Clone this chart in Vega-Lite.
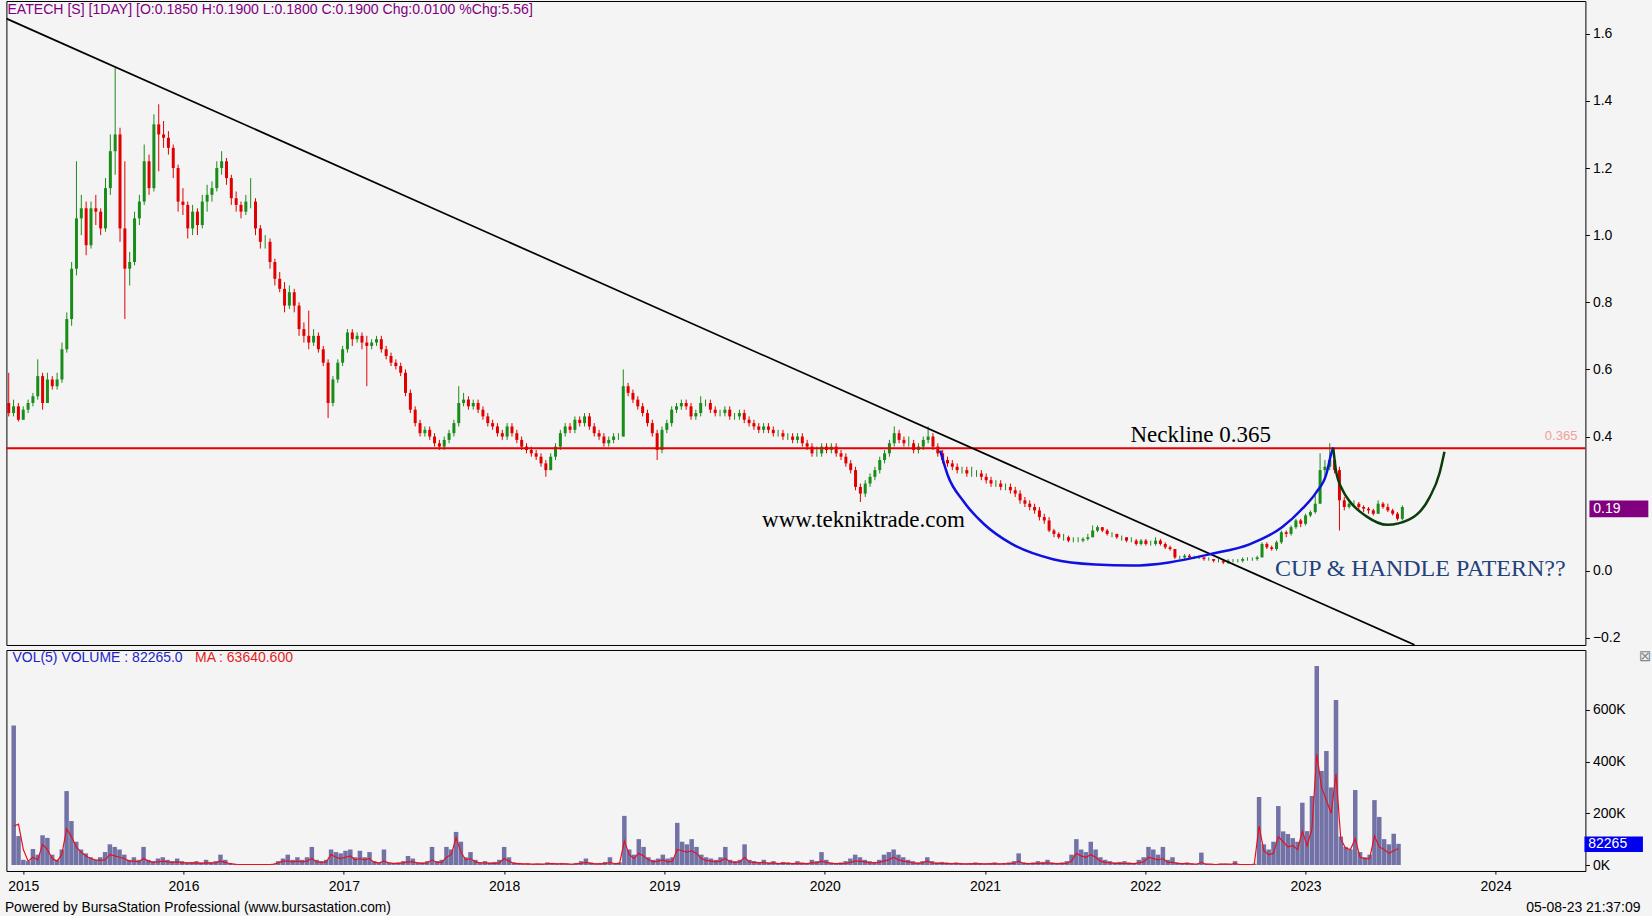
{
"$schema": "https://vega.github.io/schema/vega-lite/v6.json",
"background": "#f4f4f4",
"padding": {"left": 3.4, "top": 0, "right": 0, "bottom": 0},
"config": {
  "view": {"stroke": "#000000", "strokeWidth": 1, "fill": "#f4f4f4"},
  "axis": {"labelFont": "Liberation Sans", "labelFontSize": 14, "labelColor": "#000000", "tickColor": "#000000", "domain": false, "grid": false, "labelFlush": false, "labelOverlap": false}
},
"datasets": {
"candles": [
{"t":2014.94,"o":0.50,"h":0.59,"l":0.46,"c":0.47,"v":540,"m":150},
{"t":2014.97,"o":0.47,"h":0.51,"l":0.46,"c":0.49,"v":112,"m":158},
{"t":2015.00,"o":0.49,"h":0.50,"l":0.445,"c":0.45,"v":20,"m":60},
{"t":2015.03,"o":0.45,"h":0.49,"l":0.45,"c":0.48,"v":15,"m":15},
{"t":2015.06,"o":0.48,"h":0.51,"l":0.47,"c":0.50,"v":62,"m":30},
{"t":2015.09,"o":0.50,"h":0.53,"l":0.49,"c":0.52,"v":40,"m":20},
{"t":2015.12,"o":0.52,"h":0.63,"l":0.51,"c":0.58,"v":115,"m":80},
{"t":2015.15,"o":0.58,"h":0.59,"l":0.48,"c":0.50,"v":105,"m":60},
{"t":2015.18,"o":0.50,"h":0.59,"l":0.50,"c":0.57,"v":40,"m":25},
{"t":2015.21,"o":0.57,"h":0.58,"l":0.54,"c":0.55,"v":20,"m":15},
{"t":2015.24,"o":0.55,"h":0.59,"l":0.54,"c":0.57,"v":60,"m":40},
{"t":2015.27,"o":0.57,"h":0.68,"l":0.56,"c":0.66,"v":286,"m":140},
{"t":2015.30,"o":0.66,"h":0.77,"l":0.65,"c":0.75,"v":170,"m":110},
{"t":2015.33,"o":0.75,"h":0.92,"l":0.73,"c":0.90,"v":90,"m":70},
{"t":2015.36,"o":0.90,"h":1.22,"l":0.88,"c":1.05,"v":60,"m":50},
{"t":2015.39,"o":1.05,"h":1.12,"l":1.00,"c":1.08,"v":45,"m":35},
{"t":2015.42,"o":1.08,"h":1.10,"l":0.94,"c":0.97,"v":30,"m":25},
{"t":2015.45,"o":0.97,"h":1.10,"l":0.96,"c":1.08,"v":20,"m":20},
{"t":2015.48,"o":1.08,"h":1.12,"l":1.03,"c":1.07,"v":30,"m":18},
{"t":2015.51,"o":1.07,"h":1.08,"l":1.00,"c":1.02,"v":50,"m":20},
{"t":2015.54,"o":1.02,"h":1.17,"l":1.01,"c":1.14,"v":80,"m":40},
{"t":2015.57,"o":1.14,"h":1.30,"l":1.12,"c":1.25,"v":70,"m":35},
{"t":2015.60,"o":1.25,"h":1.50,"l":1.18,"c":1.30,"v":60,"m":30},
{"t":2015.63,"o":1.30,"h":1.32,"l":0.98,"c":1.02,"v":40,"m":25},
{"t":2015.66,"o":1.02,"h":1.22,"l":0.75,"c":0.90,"v":20,"m":15},
{"t":2015.69,"o":0.90,"h":0.95,"l":0.85,"c":0.92,"v":30,"m":15},
{"t":2015.72,"o":0.92,"h":1.07,"l":0.91,"c":1.05,"v":20,"m":12},
{"t":2015.75,"o":1.05,"h":1.12,"l":1.03,"c":1.10,"v":70,"m":25},
{"t":2015.78,"o":1.10,"h":1.27,"l":1.09,"c":1.22,"v":20,"m":15},
{"t":2015.81,"o":1.22,"h":1.24,"l":1.12,"c":1.14,"v":15,"m":10},
{"t":2015.84,"o":1.14,"h":1.36,"l":1.13,"c":1.33,"v":25,"m":12},
{"t":2015.87,"o":1.33,"h":1.39,"l":1.19,"c":1.30,"v":30,"m":15},
{"t":2015.90,"o":1.30,"h":1.34,"l":1.26,"c":1.29,"v":20,"m":12},
{"t":2015.93,"o":1.29,"h":1.31,"l":1.24,"c":1.26,"v":15,"m":10},
{"t":2015.96,"o":1.26,"h":1.27,"l":1.17,"c":1.20,"v":25,"m":12},
{"t":2015.99,"o":1.20,"h":1.21,"l":1.07,"c":1.10,"v":15,"m":8},
{"t":2016.02,"o":1.10,"h":1.14,"l":1.06,"c":1.09,"v":10,"m":8},
{"t":2016.05,"o":1.09,"h":1.10,"l":0.99,"c":1.02,"v":12,"m":7},
{"t":2016.08,"o":1.02,"h":1.09,"l":1.00,"c":1.07,"v":15,"m":8},
{"t":2016.11,"o":1.07,"h":1.08,"l":1.00,"c":1.03,"v":10,"m":6},
{"t":2016.14,"o":1.03,"h":1.12,"l":1.02,"c":1.10,"v":20,"m":8},
{"t":2016.17,"o":1.10,"h":1.15,"l":1.07,"c":1.12,"v":12,"m":7},
{"t":2016.20,"o":1.12,"h":1.16,"l":1.10,"c":1.14,"v":15,"m":8},
{"t":2016.23,"o":1.14,"h":1.22,"l":1.13,"c":1.20,"v":40,"m":15},
{"t":2016.26,"o":1.20,"h":1.25,"l":1.18,"c":1.22,"v":20,"m":10},
{"t":2016.29,"o":1.22,"h":1.23,"l":1.15,"c":1.17,"v":8,"m":5},
{"t":2016.32,"o":1.17,"h":1.18,"l":1.09,"c":1.11,"v":5,"m":3},
{"t":2016.35,"o":1.11,"h":1.13,"l":1.07,"c":1.09,"v":3,"m":2},
{"t":2016.38,"o":1.09,"h":1.10,"l":1.05,"c":1.07,"v":3,"m":2},
{"t":2016.41,"o":1.07,"h":1.12,"l":1.06,"c":1.10,"v":4,"m":2},
{"t":2016.44,"o":1.10,"h":1.17,"l":1.08,"c":1.10,"v":3,"m":2},
{"t":2016.47,"o":1.10,"h":1.11,"l":1.00,"c":1.02,"v":3,"m":2},
{"t":2016.50,"o":1.02,"h":1.03,"l":0.96,"c":0.98,"v":4,"m":2},
{"t":2016.53,"o":0.98,"h":1.00,"l":0.96,"c":0.98,"v":3,"m":2},
{"t":2016.56,"o":0.98,"h":0.99,"l":0.90,"c":0.92,"v":5,"m":3},
{"t":2016.59,"o":0.92,"h":0.93,"l":0.85,"c":0.87,"v":15,"m":8},
{"t":2016.62,"o":0.87,"h":0.89,"l":0.83,"c":0.84,"v":25,"m":15},
{"t":2016.65,"o":0.84,"h":0.86,"l":0.77,"c":0.79,"v":40,"m":15},
{"t":2016.68,"o":0.79,"h":0.85,"l":0.78,"c":0.83,"v":20,"m":12},
{"t":2016.71,"o":0.83,"h":0.84,"l":0.77,"c":0.79,"v":30,"m":15},
{"t":2016.74,"o":0.79,"h":0.80,"l":0.70,"c":0.72,"v":20,"m":12},
{"t":2016.77,"o":0.72,"h":0.74,"l":0.68,"c":0.70,"v":30,"m":15},
{"t":2016.80,"o":0.70,"h":0.775,"l":0.66,"c":0.68,"v":70,"m":25},
{"t":2016.83,"o":0.68,"h":0.72,"l":0.67,"c":0.70,"v":20,"m":12},
{"t":2016.86,"o":0.70,"h":0.71,"l":0.65,"c":0.66,"v":15,"m":10},
{"t":2016.89,"o":0.66,"h":0.67,"l":0.61,"c":0.62,"v":20,"m":12},
{"t":2016.92,"o":0.62,"h":0.63,"l":0.455,"c":0.50,"v":60,"m":40},
{"t":2016.95,"o":0.50,"h":0.58,"l":0.49,"c":0.57,"v":50,"m":30},
{"t":2016.98,"o":0.57,"h":0.63,"l":0.56,"c":0.62,"v":45,"m":25},
{"t":2017.01,"o":0.62,"h":0.67,"l":0.61,"c":0.66,"v":55,"m":30},
{"t":2017.04,"o":0.66,"h":0.72,"l":0.65,"c":0.71,"v":60,"m":35},
{"t":2017.07,"o":0.71,"h":0.72,"l":0.67,"c":0.69,"v":30,"m":20},
{"t":2017.10,"o":0.69,"h":0.71,"l":0.68,"c":0.70,"v":55,"m":25},
{"t":2017.13,"o":0.70,"h":0.71,"l":0.66,"c":0.68,"v":30,"m":20},
{"t":2017.16,"o":0.68,"h":0.70,"l":0.55,"c":0.67,"v":50,"m":25},
{"t":2017.19,"o":0.67,"h":0.69,"l":0.66,"c":0.68,"v":15,"m":10},
{"t":2017.22,"o":0.68,"h":0.70,"l":0.67,"c":0.69,"v":10,"m":8},
{"t":2017.25,"o":0.69,"h":0.70,"l":0.65,"c":0.66,"v":60,"m":15},
{"t":2017.28,"o":0.66,"h":0.67,"l":0.63,"c":0.64,"v":10,"m":8},
{"t":2017.31,"o":0.64,"h":0.65,"l":0.61,"c":0.62,"v":8,"m":6},
{"t":2017.34,"o":0.62,"h":0.63,"l":0.60,"c":0.61,"v":10,"m":6},
{"t":2017.37,"o":0.61,"h":0.62,"l":0.58,"c":0.59,"v":15,"m":8},
{"t":2017.40,"o":0.59,"h":0.60,"l":0.52,"c":0.53,"v":35,"m":12},
{"t":2017.43,"o":0.53,"h":0.54,"l":0.47,"c":0.48,"v":25,"m":12},
{"t":2017.46,"o":0.48,"h":0.49,"l":0.43,"c":0.44,"v":10,"m":8},
{"t":2017.49,"o":0.44,"h":0.45,"l":0.40,"c":0.41,"v":10,"m":6},
{"t":2017.52,"o":0.41,"h":0.43,"l":0.40,"c":0.42,"v":15,"m":8},
{"t":2017.55,"o":0.42,"h":0.43,"l":0.39,"c":0.40,"v":70,"m":20},
{"t":2017.58,"o":0.40,"h":0.41,"l":0.37,"c":0.38,"v":15,"m":10},
{"t":2017.61,"o":0.38,"h":0.39,"l":0.36,"c":0.37,"v":20,"m":10},
{"t":2017.64,"o":0.37,"h":0.40,"l":0.36,"c":0.39,"v":70,"m":30},
{"t":2017.67,"o":0.39,"h":0.42,"l":0.38,"c":0.41,"v":60,"m":40},
{"t":2017.70,"o":0.41,"h":0.45,"l":0.40,"c":0.44,"v":128,"m":105},
{"t":2017.73,"o":0.44,"h":0.55,"l":0.43,"c":0.50,"v":90,"m":50},
{"t":2017.76,"o":0.50,"h":0.53,"l":0.49,"c":0.51,"v":30,"m":20},
{"t":2017.79,"o":0.51,"h":0.52,"l":0.48,"c":0.49,"v":50,"m":25},
{"t":2017.82,"o":0.49,"h":0.51,"l":0.48,"c":0.50,"v":20,"m":12},
{"t":2017.85,"o":0.50,"h":0.51,"l":0.47,"c":0.48,"v":10,"m":8},
{"t":2017.88,"o":0.48,"h":0.49,"l":0.45,"c":0.46,"v":15,"m":8},
{"t":2017.91,"o":0.46,"h":0.47,"l":0.43,"c":0.44,"v":10,"m":6},
{"t":2017.94,"o":0.44,"h":0.45,"l":0.42,"c":0.43,"v":12,"m":6},
{"t":2017.97,"o":0.43,"h":0.44,"l":0.40,"c":0.41,"v":20,"m":8},
{"t":2018.00,"o":0.41,"h":0.42,"l":0.39,"c":0.40,"v":70,"m":25},
{"t":2018.03,"o":0.40,"h":0.44,"l":0.39,"c":0.43,"v":30,"m":15},
{"t":2018.06,"o":0.43,"h":0.44,"l":0.40,"c":0.41,"v":10,"m":6},
{"t":2018.09,"o":0.41,"h":0.42,"l":0.38,"c":0.39,"v":8,"m":5},
{"t":2018.12,"o":0.39,"h":0.40,"l":0.36,"c":0.37,"v":5,"m":4},
{"t":2018.15,"o":0.37,"h":0.38,"l":0.35,"c":0.36,"v":6,"m":4},
{"t":2018.18,"o":0.36,"h":0.37,"l":0.34,"c":0.35,"v":5,"m":3},
{"t":2018.21,"o":0.35,"h":0.36,"l":0.33,"c":0.34,"v":6,"m":3},
{"t":2018.24,"o":0.34,"h":0.35,"l":0.31,"c":0.32,"v":5,"m":3},
{"t":2018.27,"o":0.32,"h":0.33,"l":0.28,"c":0.30,"v":10,"m":5},
{"t":2018.30,"o":0.30,"h":0.35,"l":0.30,"c":0.34,"v":8,"m":5},
{"t":2018.33,"o":0.34,"h":0.38,"l":0.33,"c":0.37,"v":6,"m":4},
{"t":2018.36,"o":0.37,"h":0.42,"l":0.36,"c":0.41,"v":8,"m":4},
{"t":2018.39,"o":0.41,"h":0.44,"l":0.40,"c":0.43,"v":6,"m":4},
{"t":2018.42,"o":0.43,"h":0.44,"l":0.41,"c":0.42,"v":5,"m":3},
{"t":2018.45,"o":0.42,"h":0.46,"l":0.41,"c":0.45,"v":8,"m":4},
{"t":2018.48,"o":0.45,"h":0.46,"l":0.43,"c":0.44,"v":15,"m":6},
{"t":2018.51,"o":0.44,"h":0.47,"l":0.43,"c":0.46,"v":25,"m":10},
{"t":2018.54,"o":0.46,"h":0.47,"l":0.42,"c":0.43,"v":10,"m":6},
{"t":2018.57,"o":0.43,"h":0.44,"l":0.40,"c":0.41,"v":6,"m":4},
{"t":2018.60,"o":0.41,"h":0.42,"l":0.39,"c":0.40,"v":8,"m":4},
{"t":2018.63,"o":0.40,"h":0.41,"l":0.37,"c":0.38,"v":12,"m":5},
{"t":2018.66,"o":0.38,"h":0.40,"l":0.37,"c":0.39,"v":30,"m":10},
{"t":2018.69,"o":0.39,"h":0.41,"l":0.38,"c":0.40,"v":8,"m":5},
{"t":2018.72,"o":0.40,"h":0.41,"l":0.39,"c":0.40,"v":10,"m":5},
{"t":2018.75,"o":0.40,"h":0.60,"l":0.40,"c":0.55,"v":190,"m":93},
{"t":2018.78,"o":0.55,"h":0.56,"l":0.52,"c":0.53,"v":60,"m":40},
{"t":2018.81,"o":0.53,"h":0.54,"l":0.50,"c":0.51,"v":40,"m":25},
{"t":2018.84,"o":0.51,"h":0.52,"l":0.48,"c":0.49,"v":100,"m":45},
{"t":2018.87,"o":0.49,"h":0.50,"l":0.46,"c":0.47,"v":70,"m":35},
{"t":2018.90,"o":0.47,"h":0.48,"l":0.43,"c":0.44,"v":30,"m":20},
{"t":2018.93,"o":0.44,"h":0.45,"l":0.40,"c":0.41,"v":20,"m":12},
{"t":2018.96,"o":0.41,"h":0.42,"l":0.33,"c":0.36,"v":25,"m":15},
{"t":2018.99,"o":0.36,"h":0.43,"l":0.35,"c":0.42,"v":40,"m":20},
{"t":2019.02,"o":0.42,"h":0.45,"l":0.41,"c":0.44,"v":25,"m":12},
{"t":2019.05,"o":0.44,"h":0.49,"l":0.43,"c":0.48,"v":30,"m":15},
{"t":2019.08,"o":0.48,"h":0.50,"l":0.47,"c":0.49,"v":163,"m":60},
{"t":2019.11,"o":0.49,"h":0.51,"l":0.48,"c":0.50,"v":90,"m":55},
{"t":2019.14,"o":0.50,"h":0.51,"l":0.48,"c":0.49,"v":80,"m":50},
{"t":2019.17,"o":0.49,"h":0.50,"l":0.45,"c":0.46,"v":100,"m":55},
{"t":2019.20,"o":0.46,"h":0.48,"l":0.45,"c":0.47,"v":70,"m":45},
{"t":2019.23,"o":0.47,"h":0.52,"l":0.46,"c":0.50,"v":40,"m":25},
{"t":2019.26,"o":0.50,"h":0.51,"l":0.49,"c":0.50,"v":30,"m":18},
{"t":2019.29,"o":0.50,"h":0.51,"l":0.47,"c":0.48,"v":25,"m":15},
{"t":2019.32,"o":0.48,"h":0.49,"l":0.46,"c":0.47,"v":20,"m":12},
{"t":2019.35,"o":0.47,"h":0.48,"l":0.46,"c":0.47,"v":30,"m":15},
{"t":2019.38,"o":0.47,"h":0.49,"l":0.46,"c":0.48,"v":70,"m":25},
{"t":2019.41,"o":0.48,"h":0.49,"l":0.45,"c":0.46,"v":20,"m":12},
{"t":2019.44,"o":0.46,"h":0.47,"l":0.45,"c":0.46,"v":15,"m":10},
{"t":2019.47,"o":0.46,"h":0.48,"l":0.45,"c":0.47,"v":20,"m":12},
{"t":2019.50,"o":0.47,"h":0.48,"l":0.44,"c":0.45,"v":80,"m":30},
{"t":2019.53,"o":0.45,"h":0.46,"l":0.43,"c":0.44,"v":20,"m":12},
{"t":2019.56,"o":0.44,"h":0.45,"l":0.42,"c":0.43,"v":15,"m":10},
{"t":2019.59,"o":0.43,"h":0.44,"l":0.41,"c":0.42,"v":12,"m":8},
{"t":2019.62,"o":0.42,"h":0.44,"l":0.41,"c":0.43,"v":20,"m":10},
{"t":2019.65,"o":0.43,"h":0.44,"l":0.41,"c":0.42,"v":10,"m":6},
{"t":2019.68,"o":0.42,"h":0.43,"l":0.40,"c":0.41,"v":15,"m":8},
{"t":2019.71,"o":0.41,"h":0.42,"l":0.40,"c":0.41,"v":8,"m":5},
{"t":2019.74,"o":0.41,"h":0.42,"l":0.39,"c":0.40,"v":12,"m":6},
{"t":2019.77,"o":0.40,"h":0.41,"l":0.39,"c":0.40,"v":10,"m":6},
{"t":2019.80,"o":0.40,"h":0.41,"l":0.38,"c":0.39,"v":8,"m":5},
{"t":2019.83,"o":0.39,"h":0.41,"l":0.38,"c":0.40,"v":15,"m":6},
{"t":2019.86,"o":0.40,"h":0.41,"l":0.37,"c":0.38,"v":10,"m":5},
{"t":2019.89,"o":0.38,"h":0.39,"l":0.36,"c":0.37,"v":8,"m":5},
{"t":2019.92,"o":0.37,"h":0.38,"l":0.34,"c":0.35,"v":20,"m":8},
{"t":2019.95,"o":0.35,"h":0.37,"l":0.34,"c":0.35,"v":15,"m":8},
{"t":2019.98,"o":0.35,"h":0.38,"l":0.34,"c":0.37,"v":50,"m":15},
{"t":2020.01,"o":0.37,"h":0.38,"l":0.35,"c":0.36,"v":20,"m":10},
{"t":2020.04,"o":0.36,"h":0.38,"l":0.35,"c":0.37,"v":10,"m":6},
{"t":2020.07,"o":0.37,"h":0.38,"l":0.34,"c":0.35,"v":8,"m":5},
{"t":2020.10,"o":0.35,"h":0.36,"l":0.33,"c":0.34,"v":10,"m":5},
{"t":2020.13,"o":0.34,"h":0.35,"l":0.31,"c":0.32,"v":15,"m":6},
{"t":2020.16,"o":0.32,"h":0.33,"l":0.29,"c":0.30,"v":25,"m":10},
{"t":2020.19,"o":0.30,"h":0.31,"l":0.24,"c":0.25,"v":40,"m":15},
{"t":2020.22,"o":0.25,"h":0.26,"l":0.205,"c":0.23,"v":30,"m":15},
{"t":2020.25,"o":0.23,"h":0.27,"l":0.22,"c":0.26,"v":20,"m":12},
{"t":2020.28,"o":0.26,"h":0.29,"l":0.25,"c":0.28,"v":15,"m":8},
{"t":2020.31,"o":0.28,"h":0.31,"l":0.27,"c":0.30,"v":12,"m":8},
{"t":2020.34,"o":0.30,"h":0.34,"l":0.29,"c":0.33,"v":20,"m":10},
{"t":2020.37,"o":0.33,"h":0.36,"l":0.32,"c":0.35,"v":40,"m":15},
{"t":2020.40,"o":0.35,"h":0.39,"l":0.34,"c":0.38,"v":50,"m":20},
{"t":2020.43,"o":0.38,"h":0.43,"l":0.37,"c":0.41,"v":60,"m":30},
{"t":2020.46,"o":0.41,"h":0.42,"l":0.38,"c":0.39,"v":40,"m":20},
{"t":2020.49,"o":0.39,"h":0.40,"l":0.37,"c":0.38,"v":30,"m":15},
{"t":2020.52,"o":0.38,"h":0.40,"l":0.37,"c":0.38,"v":20,"m":12},
{"t":2020.55,"o":0.38,"h":0.39,"l":0.35,"c":0.36,"v":15,"m":8},
{"t":2020.58,"o":0.36,"h":0.38,"l":0.35,"c":0.37,"v":10,"m":6},
{"t":2020.61,"o":0.37,"h":0.40,"l":0.36,"c":0.39,"v":15,"m":8},
{"t":2020.64,"o":0.39,"h":0.43,"l":0.38,"c":0.40,"v":30,"m":15},
{"t":2020.67,"o":0.40,"h":0.41,"l":0.36,"c":0.37,"v":15,"m":8},
{"t":2020.70,"o":0.37,"h":0.38,"l":0.34,"c":0.35,"v":10,"m":6},
{"t":2020.73,"o":0.35,"h":0.36,"l":0.32,"c":0.33,"v":12,"m":6},
{"t":2020.76,"o":0.33,"h":0.34,"l":0.31,"c":0.32,"v":10,"m":5},
{"t":2020.79,"o":0.32,"h":0.33,"l":0.30,"c":0.31,"v":8,"m":5},
{"t":2020.82,"o":0.31,"h":0.32,"l":0.29,"c":0.30,"v":10,"m":5},
{"t":2020.85,"o":0.30,"h":0.31,"l":0.29,"c":0.30,"v":8,"m":4},
{"t":2020.88,"o":0.30,"h":0.31,"l":0.28,"c":0.29,"v":6,"m":4},
{"t":2020.91,"o":0.29,"h":0.31,"l":0.28,"c":0.29,"v":8,"m":4},
{"t":2020.94,"o":0.29,"h":0.30,"l":0.28,"c":0.29,"v":10,"m":5},
{"t":2020.97,"o":0.29,"h":0.30,"l":0.27,"c":0.28,"v":8,"m":4},
{"t":2021.00,"o":0.28,"h":0.29,"l":0.26,"c":0.27,"v":6,"m":4},
{"t":2021.03,"o":0.27,"h":0.28,"l":0.25,"c":0.26,"v":8,"m":4},
{"t":2021.06,"o":0.26,"h":0.27,"l":0.25,"c":0.26,"v":10,"m":5},
{"t":2021.09,"o":0.26,"h":0.27,"l":0.24,"c":0.25,"v":6,"m":4},
{"t":2021.12,"o":0.25,"h":0.26,"l":0.24,"c":0.25,"v":8,"m":4},
{"t":2021.15,"o":0.25,"h":0.26,"l":0.23,"c":0.24,"v":10,"m":5},
{"t":2021.18,"o":0.24,"h":0.25,"l":0.22,"c":0.23,"v":15,"m":6},
{"t":2021.21,"o":0.23,"h":0.24,"l":0.20,"c":0.21,"v":45,"m":15},
{"t":2021.24,"o":0.21,"h":0.22,"l":0.19,"c":0.20,"v":10,"m":6},
{"t":2021.27,"o":0.20,"h":0.21,"l":0.18,"c":0.19,"v":8,"m":5},
{"t":2021.30,"o":0.19,"h":0.20,"l":0.17,"c":0.18,"v":10,"m":5},
{"t":2021.33,"o":0.18,"h":0.19,"l":0.15,"c":0.16,"v":15,"m":6},
{"t":2021.36,"o":0.16,"h":0.17,"l":0.14,"c":0.15,"v":12,"m":6},
{"t":2021.39,"o":0.15,"h":0.16,"l":0.115,"c":0.12,"v":20,"m":8},
{"t":2021.42,"o":0.12,"h":0.125,"l":0.10,"c":0.11,"v":10,"m":6},
{"t":2021.45,"o":0.11,"h":0.115,"l":0.095,"c":0.10,"v":8,"m":5},
{"t":2021.48,"o":0.10,"h":0.11,"l":0.09,"c":0.10,"v":10,"m":5},
{"t":2021.51,"o":0.10,"h":0.105,"l":0.085,"c":0.09,"v":15,"m":6},
{"t":2021.54,"o":0.09,"h":0.10,"l":0.085,"c":0.09,"v":40,"m":15},
{"t":2021.57,"o":0.09,"h":0.10,"l":0.085,"c":0.09,"v":100,"m":45},
{"t":2021.60,"o":0.09,"h":0.10,"l":0.085,"c":0.095,"v":60,"m":35},
{"t":2021.63,"o":0.095,"h":0.11,"l":0.09,"c":0.10,"v":50,"m":30},
{"t":2021.66,"o":0.10,"h":0.135,"l":0.10,"c":0.12,"v":90,"m":40},
{"t":2021.69,"o":0.12,"h":0.135,"l":0.115,"c":0.13,"v":60,"m":30},
{"t":2021.72,"o":0.13,"h":0.13,"l":0.115,"c":0.12,"v":30,"m":15},
{"t":2021.75,"o":0.12,"h":0.125,"l":0.105,"c":0.11,"v":20,"m":10},
{"t":2021.78,"o":0.11,"h":0.115,"l":0.10,"c":0.11,"v":15,"m":8},
{"t":2021.81,"o":0.11,"h":0.11,"l":0.095,"c":0.10,"v":10,"m":6},
{"t":2021.84,"o":0.10,"h":0.105,"l":0.09,"c":0.10,"v":12,"m":6},
{"t":2021.87,"o":0.10,"h":0.10,"l":0.085,"c":0.09,"v":15,"m":6},
{"t":2021.90,"o":0.09,"h":0.10,"l":0.085,"c":0.09,"v":10,"m":5},
{"t":2021.93,"o":0.09,"h":0.095,"l":0.075,"c":0.08,"v":8,"m":5},
{"t":2021.96,"o":0.08,"h":0.095,"l":0.075,"c":0.09,"v":20,"m":8},
{"t":2021.99,"o":0.09,"h":0.095,"l":0.075,"c":0.08,"v":30,"m":12},
{"t":2022.02,"o":0.08,"h":0.09,"l":0.075,"c":0.08,"v":70,"m":30},
{"t":2022.05,"o":0.08,"h":0.10,"l":0.075,"c":0.09,"v":60,"m":25},
{"t":2022.08,"o":0.09,"h":0.095,"l":0.075,"c":0.08,"v":40,"m":20},
{"t":2022.11,"o":0.08,"h":0.085,"l":0.065,"c":0.07,"v":70,"m":25},
{"t":2022.14,"o":0.07,"h":0.075,"l":0.06,"c":0.065,"v":20,"m":10},
{"t":2022.17,"o":0.065,"h":0.065,"l":0.035,"c":0.04,"v":30,"m":10},
{"t":2022.20,"o":0.04,"h":0.045,"l":0.035,"c":0.04,"v":10,"m":6},
{"t":2022.23,"o":0.04,"h":0.05,"l":0.035,"c":0.045,"v":8,"m":5},
{"t":2022.26,"o":0.045,"h":0.05,"l":0.035,"c":0.04,"v":10,"m":5},
{"t":2022.29,"o":0.04,"h":0.045,"l":0.035,"c":0.04,"v":6,"m":4},
{"t":2022.32,"o":0.04,"h":0.045,"l":0.035,"c":0.04,"v":5,"m":3},
{"t":2022.35,"o":0.04,"h":0.04,"l":0.03,"c":0.035,"v":48,"m":10},
{"t":2022.38,"o":0.035,"h":0.04,"l":0.03,"c":0.035,"v":5,"m":3},
{"t":2022.41,"o":0.035,"h":0.035,"l":0.025,"c":0.03,"v":4,"m":3},
{"t":2022.44,"o":0.03,"h":0.035,"l":0.025,"c":0.03,"v":3,"m":2},
{"t":2022.47,"o":0.03,"h":0.03,"l":0.02,"c":0.025,"v":5,"m":3},
{"t":2022.50,"o":0.025,"h":0.035,"l":0.02,"c":0.03,"v":5,"m":3},
{"t":2022.53,"o":0.03,"h":0.035,"l":0.025,"c":0.03,"v":4,"m":3},
{"t":2022.56,"o":0.03,"h":0.035,"l":0.025,"c":0.03,"v":15,"m":5},
{"t":2022.59,"o":0.03,"h":0.04,"l":0.025,"c":0.035,"v":3,"m":2},
{"t":2022.62,"o":0.035,"h":0.04,"l":0.03,"c":0.035,"v":4,"m":2},
{"t":2022.65,"o":0.035,"h":0.04,"l":0.03,"c":0.035,"v":3,"m":2},
{"t":2022.68,"o":0.035,"h":0.045,"l":0.03,"c":0.04,"v":5,"m":3},
{"t":2022.71,"o":0.04,"h":0.085,"l":0.04,"c":0.08,"v":263,"m":150},
{"t":2022.74,"o":0.08,"h":0.085,"l":0.065,"c":0.07,"v":80,"m":55},
{"t":2022.77,"o":0.07,"h":0.075,"l":0.06,"c":0.065,"v":60,"m":40},
{"t":2022.80,"o":0.065,"h":0.09,"l":0.06,"c":0.085,"v":90,"m":45},
{"t":2022.83,"o":0.085,"h":0.12,"l":0.08,"c":0.115,"v":228,"m":110},
{"t":2022.86,"o":0.115,"h":0.12,"l":0.10,"c":0.11,"v":130,"m":90},
{"t":2022.89,"o":0.11,"h":0.135,"l":0.105,"c":0.13,"v":120,"m":70},
{"t":2022.92,"o":0.13,"h":0.155,"l":0.125,"c":0.15,"v":104,"m":75},
{"t":2022.95,"o":0.15,"h":0.155,"l":0.13,"c":0.14,"v":90,"m":60},
{"t":2022.98,"o":0.14,"h":0.17,"l":0.135,"c":0.165,"v":241,"m":130},
{"t":2023.01,"o":0.165,"h":0.18,"l":0.16,"c":0.175,"v":131,"m":75},
{"t":2023.04,"o":0.175,"h":0.225,"l":0.17,"c":0.20,"v":267,"m":140},
{"t":2023.07,"o":0.20,"h":0.35,"l":0.20,"c":0.30,"v":770,"m":429},
{"t":2023.10,"o":0.30,"h":0.33,"l":0.27,"c":0.31,"v":364,"m":300},
{"t":2023.13,"o":0.31,"h":0.38,"l":0.30,"c":0.33,"v":441,"m":250},
{"t":2023.16,"o":0.33,"h":0.345,"l":0.29,"c":0.30,"v":300,"m":200},
{"t":2023.19,"o":0.30,"h":0.31,"l":0.12,"c":0.21,"v":638,"m":352},
{"t":2023.22,"o":0.21,"h":0.22,"l":0.18,"c":0.19,"v":110,"m":100},
{"t":2023.25,"o":0.19,"h":0.21,"l":0.185,"c":0.20,"v":70,"m":65},
{"t":2023.28,"o":0.20,"h":0.21,"l":0.19,"c":0.20,"v":60,"m":60},
{"t":2023.31,"o":0.20,"h":0.205,"l":0.18,"c":0.19,"v":290,"m":101},
{"t":2023.34,"o":0.19,"h":0.195,"l":0.175,"c":0.185,"v":50,"m":30},
{"t":2023.37,"o":0.185,"h":0.19,"l":0.17,"c":0.18,"v":30,"m":25},
{"t":2023.40,"o":0.18,"h":0.185,"l":0.165,"c":0.17,"v":40,"m":25},
{"t":2023.43,"o":0.17,"h":0.21,"l":0.17,"c":0.20,"v":251,"m":112},
{"t":2023.46,"o":0.20,"h":0.205,"l":0.185,"c":0.19,"v":186,"m":70},
{"t":2023.49,"o":0.19,"h":0.20,"l":0.175,"c":0.18,"v":100,"m":60},
{"t":2023.52,"o":0.18,"h":0.185,"l":0.165,"c":0.17,"v":80,"m":45},
{"t":2023.55,"o":0.17,"h":0.175,"l":0.15,"c":0.155,"v":121,"m":55},
{"t":2023.58,"o":0.155,"h":0.195,"l":0.15,"c":0.19,"v":82,"m":64}
],
"trend": [{"t":2014.926,"p":1.645},{"t":2023.655,"p":-0.2206}],
"cup": [
{"t":2020.715,"p":0.358},{"t":2020.761,"p":0.2855},{"t":2020.859,"p":0.207},{"t":2020.989,"p":0.138},
{"t":2021.153,"p":0.0816},{"t":2021.414,"p":0.0345},{"t":2021.675,"p":0.0188},{"t":2021.904,"p":0.0157},
{"t":2022.133,"p":0.0251},{"t":2022.394,"p":0.0502},{"t":2022.632,"p":0.079},{"t":2022.836,"p":0.1305},
{"t":2022.96,"p":0.185},{"t":2023.045,"p":0.233},{"t":2023.11,"p":0.29},{"t":2023.138,"p":0.347},{"t":2023.152,"p":0.368}
],
"handle": [
{"t":2023.152,"p":0.365},{"t":2023.169,"p":0.297},{"t":2023.21,"p":0.24},{"t":2023.252,"p":0.208},
{"t":2023.355,"p":0.163},{"t":2023.487,"p":0.137},{"t":2023.624,"p":0.153},{"t":2023.748,"p":0.218},
{"t":2023.81,"p":0.29},{"t":2023.841,"p":0.355}
]
},
"vconcat": [
{
  "width": 1579,
  "height": 644,
  "layer": [
    {
      "data": {"name": "candles"},
      "mark": {"type": "rule", "strokeWidth": 1},
      "encoding": {
        "x": {"field": "t", "type": "quantitative", "scale": {"domain": [2014.9256, 2024.7148], "nice": false, "zero": false}, "axis": null},
        "y": {"field": "l", "type": "quantitative", "scale": {"domain": [-0.221, 1.6975], "nice": false, "zero": false},
              "axis": {"orient": "right", "values": [-0.2, 0, 0.4, 0.6, 0.8, 1.0, 1.2, 1.4, 1.6], "format": ".1f", "tickSize": 4, "labelPadding": 3, "title": null}},
        "y2": {"field": "h"},
        "color": {"condition": {"test": "datum.c >= datum.o", "value": "#1a8c1a"}, "value": "#e00000"}
      }
    },
    {
      "data": {"name": "candles"},
      "mark": {"type": "rule", "strokeWidth": 3},
      "encoding": {
        "x": {"field": "t", "type": "quantitative"},
        "y": {"field": "o", "type": "quantitative"},
        "y2": {"field": "c"},
        "color": {"condition": {"test": "datum.c >= datum.o", "value": "#1a8c1a"}, "value": "#e00000"}
      }
    },
    {
      "data": {"values": [{}]},
      "mark": {"type": "rule", "color": "#e60000", "strokeWidth": 2},
      "encoding": {"y": {"datum": 0.365, "type": "quantitative"}}
    },
    {
      "data": {"name": "trend"},
      "mark": {"type": "line", "color": "#000000", "strokeWidth": 1.7, "clip": true},
      "encoding": {
        "x": {"field": "t", "type": "quantitative"},
        "y": {"field": "p", "type": "quantitative"}
      }
    },
    {
      "data": {"name": "cup"},
      "mark": {"type": "line", "color": "#1010e0", "strokeWidth": 2.5, "interpolate": "monotone", "clip": true},
      "encoding": {
        "x": {"field": "t", "type": "quantitative"},
        "y": {"field": "p", "type": "quantitative"}
      }
    },
    {
      "data": {"name": "handle"},
      "mark": {"type": "line", "color": "#0b3d0b", "strokeWidth": 2.5, "interpolate": "monotone", "clip": true},
      "encoding": {
        "x": {"field": "t", "type": "quantitative"},
        "y": {"field": "p", "type": "quantitative"}
      }
    },
    {
      "data": {"values": [{}]},
      "mark": {"type": "text", "text": "EATECH [S] [1DAY] [O:0.1850 H:0.1900 L:0.1800 C:0.1900 Chg:0.0100 %Chg:5.56]", "font": "Liberation Sans", "fontSize": 14.1, "color": "#800080", "align": "left", "baseline": "middle"},
      "encoding": {"x": {"datum": 2014.932, "type": "quantitative"}, "y": {"datum": 1.6706, "type": "quantitative"}}
    },
    {
      "data": {"values": [{}]},
      "mark": {"type": "text", "text": "Neckline 0.365", "font": "Liberation Serif", "fontSize": 23, "color": "#000000", "align": "center", "baseline": "alphabetic"},
      "encoding": {"x": {"datum": 2022.33, "type": "quantitative"}, "y": {"datum": 0.384, "type": "quantitative"}}
    },
    {
      "data": {"values": [{}]},
      "mark": {"type": "text", "text": "www.tekniktrade.com", "font": "Liberation Serif", "fontSize": 23, "color": "#000000", "align": "center", "baseline": "alphabetic"},
      "encoding": {"x": {"datum": 2020.239, "type": "quantitative"}, "y": {"datum": 0.131, "type": "quantitative"}}
    },
    {
      "data": {"values": [{}]},
      "mark": {"type": "text", "text": "CUP & HANDLE PATERN??", "font": "Liberation Serif", "fontSize": 24, "color": "#23427a", "align": "center", "baseline": "alphabetic"},
      "encoding": {"x": {"datum": 2023.691, "type": "quantitative"}, "y": {"datum": -0.0155, "type": "quantitative"}}
    },
    {
      "data": {"values": [{}]},
      "mark": {"type": "text", "text": "0.365", "font": "Liberation Sans", "fontSize": 13, "color": "#f2a0a0", "align": "right", "baseline": "middle"},
      "encoding": {"x": {"datum": 2024.665, "type": "quantitative"}, "y": {"datum": 0.4016, "type": "quantitative"}}
    },
    {
      "data": {"values": [{}]},
      "mark": {"type": "rect", "color": "#800080"},
      "encoding": {
        "x": {"datum": 2024.74, "type": "quantitative"}, "x2": {"datum": 2025.105},
        "y": {"datum": 0.2097, "type": "quantitative"}, "y2": {"datum": 0.1594}
      }
    },
    {
      "data": {"values": [{}]},
      "mark": {"type": "text", "text": "0.19", "font": "Liberation Sans", "fontSize": 14, "color": "#ffffff", "align": "left", "baseline": "middle"},
      "encoding": {"x": {"datum": 2024.764, "type": "quantitative"}, "y": {"datum": 0.1846, "type": "quantitative"}}
    }
  ]
},
{
  "width": 1579,
  "height": 221,
  "layer": [
    {
      "data": {"name": "candles"},
      "mark": {"type": "bar", "color": "#7272a6", "size": 4.5},
      "encoding": {
        "x": {"field": "t", "type": "quantitative", "scale": {"domain": [2014.9256, 2024.7148], "nice": false, "zero": false},
              "axis": {"orient": "bottom", "values": [2015, 2016, 2017, 2018, 2019, 2020, 2021, 2022, 2023, 2024.186], "labelExpr": "format(floor(datum.value), 'd')", "tickSize": 3, "labelPadding": 6, "title": null}},
        "y": {"field": "v", "type": "quantitative", "scale": {"domain": [-23.2, 831.7], "nice": false, "zero": false},
              "axis": {"orient": "right", "values": [0, 200, 400, 600], "labelExpr": "datum.value + 'K'", "tickSize": 4, "labelPadding": 3, "title": null}},
        "y2": {"datum": 0}
      }
    },
    {
      "data": {"name": "candles"},
      "mark": {"type": "line", "color": "#e8101e", "strokeWidth": 1.2},
      "encoding": {
        "x": {"field": "t", "type": "quantitative"},
        "y": {"field": "m", "type": "quantitative"}
      }
    },
    {
      "data": {"values": [{}]},
      "mark": {"type": "text", "text": "VOL(5)  VOLUME : 82265.0", "font": "Liberation Sans", "fontSize": 14, "color": "#2323c8", "align": "left", "baseline": "middle"},
      "encoding": {"x": {"datum": 2014.932, "type": "quantitative"}, "y": {"datum": 800.8, "type": "quantitative"}}
    },
    {
      "data": {"values": [{}]},
      "mark": {"type": "text", "text": "MA : 63640.600", "font": "Liberation Sans", "fontSize": 14, "color": "#e51c23", "align": "left", "baseline": "middle"},
      "encoding": {"x": {"datum": 2016.071, "type": "quantitative"}, "y": {"datum": 800.8, "type": "quantitative"}}
    },
    {
      "data": {"values": [{}]},
      "mark": {"type": "text", "text": "⊠", "font": "DejaVu Sans", "fontSize": 15, "color": "#888888", "align": "center", "baseline": "middle"},
      "encoding": {"x": {"datum": 2025.12, "type": "quantitative"}, "y": {"datum": 808.5, "type": "quantitative"}}
    },
    {
      "data": {"values": [{}]},
      "mark": {"type": "rect", "color": "#0000ee"},
      "encoding": {
        "x": {"datum": 2024.74, "type": "quantitative"}, "x2": {"datum": 2025.105},
        "y": {"datum": 110.3, "type": "quantitative"}, "y2": {"datum": 50.3}
      }
    },
    {
      "data": {"values": [{}]},
      "mark": {"type": "text", "text": "82265", "font": "Liberation Sans", "fontSize": 14, "color": "#ffffff", "align": "left", "baseline": "middle"},
      "encoding": {"x": {"datum": 2024.764, "type": "quantitative"}, "y": {"datum": 80.3, "type": "quantitative"}}
    },
    {
      "data": {"values": [{}]},
      "mark": {"type": "text", "text": "Powered by BursaStation Professional (www.bursastation.com)", "font": "Liberation Sans", "fontSize": 13.8, "color": "#000000", "align": "left", "baseline": "middle"},
      "encoding": {"x": {"datum": 2014.885, "type": "quantitative"}, "y": {"datum": -166.3, "type": "quantitative"}}
    },
    {
      "data": {"values": [{}]},
      "mark": {"type": "text", "text": "05-08-23 21:37:09", "font": "Liberation Sans", "fontSize": 14, "color": "#000000", "align": "right", "baseline": "middle"},
      "encoding": {"x": {"datum": 2025.09, "type": "quantitative"}, "y": {"datum": -166.3, "type": "quantitative"}}
    }
  ]
}
],
"spacing": 5,
"bounds": "flush"
}
